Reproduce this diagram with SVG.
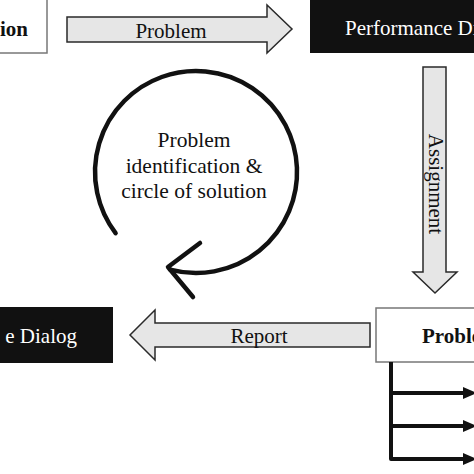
<svg xmlns="http://www.w3.org/2000/svg" width="474" height="474" viewBox="0 0 474 474">
<style>
.t{font-family:"Liberation Serif","Times New Roman",serif;font-size:21px;fill:#111}
.c{font-size:21.5px}
.w{fill:#fff}
.b{font-weight:bold}
.fa{fill:#e6e6e6;stroke:#2a2a2a;stroke-width:1.5}
.wb{fill:#fff;stroke:#777;stroke-width:1.5}
.ln{fill:none;stroke:#111;stroke-width:4.5;stroke-linecap:round;stroke-linejoin:round}
.br{fill:none;stroke:#111;stroke-width:4;stroke-linejoin:round}
.hd{fill:#111}
</style>
<rect width="474" height="474" fill="#fff"/>
<g id="node-tl">
<rect class="wb" x="-10" y="-1" width="57" height="54"/>
<text class="t b" x="28" y="36" text-anchor="end">ion</text>
</g>
<g id="node-perf">
<rect x="310" y="-2" width="170" height="55" fill="#111"/>
<text class="t w" x="345" y="35">Performance Dialog</text>
</g>
<g id="node-problem">
<rect class="wb" x="376" y="308" width="110" height="54"/>
<text class="t b" x="422" y="343">Problem</text>
</g>
<g id="node-dialog">
<rect x="-10" y="307" width="123" height="56" fill="#111"/>
<text class="t w" x="77" y="343" text-anchor="end">e Dialog</text>
</g>
<g id="node-cycle">
<text class="t c" x="194" y="147" text-anchor="middle">Problem</text>
<text class="t c" x="194" y="173" text-anchor="middle">identification &amp;</text>
<text class="t c" x="194" y="198" text-anchor="middle">circle of solution</text>
</g>
<g id="connectors">
<polygon class="fa" points="67,17 267,17 267,5 292,29 267,53 267,42 67,42"/>
<text class="t" x="171" y="38" text-anchor="middle">Problem</text>
<polygon class="fa" points="423,67 446,67 446,272 457,272 435,293 413,272 423,272"/>
<text class="t" font-size="22" transform="translate(429,184) rotate(90)" text-anchor="middle">Assignment</text>
<polygon class="fa" points="370,323 370,347 155,347 155,360 130,335 155,310 155,323"/>
<text class="t" x="259" y="343" text-anchor="middle">Report</text>
<path class="ln" d="M115.6,233.1 A101,101 0 1 1 170,269.6"/>
<path class="ln" d="M200,243 L168,267 L193,297"/>
<path class="br" d="M391,362 V459 H465"/>
<path class="br" d="M391,393 H465"/>
<path class="br" d="M391,426 H465"/>
<polygon class="hd" points="463,387 477,393 463,399"/>
<polygon class="hd" points="463,420 477,426 463,432"/>
<polygon class="hd" points="463,453 477,459 463,465"/>
</g>
</svg>
